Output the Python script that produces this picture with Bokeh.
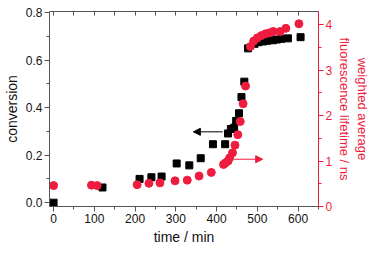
from bokeh.plotting import figure
from bokeh.models import (Range1d, LinearAxis, SingleIntervalTicker, Arrow, NormalHead,
                          NumeralTickFormatter, CustomLabelingPolicy)
from bokeh.embed import file_html
from bokeh.resources import INLINE

# conversion (black squares)
t_conv = [0, 120, 211, 240, 265, 302, 333, 361, 391, 421, 428, 435, 443, 448, 455, 461, 468,
          477, 493, 503, 514, 524, 538, 548, 559, 575, 606]
conv = [0.0, 0.064, 0.10, 0.107, 0.11, 0.165, 0.157, 0.187, 0.246, 0.246, 0.291, 0.31, 0.315,
        0.344, 0.376, 0.444, 0.509, 0.649, 0.668, 0.675, 0.678, 0.681, 0.683, 0.686, 0.689,
        0.691, 0.696]

# weighted average fluorescence lifetime (red circles)
t_life = [0, 93, 107, 205, 234, 261, 298, 328, 357, 387, 417, 422, 428, 432, 439, 445, 452,
          458, 465, 471, 483, 491, 500, 510, 520, 530, 539, 556, 570, 602]
life = [0.46, 0.47, 0.46, 0.48, 0.51, 0.52, 0.565, 0.58, 0.67, 0.75, 0.925, 0.96, 1.0, 1.07,
        1.18, 1.35, 1.58, 1.87, 2.26, 2.65, 3.52, 3.64, 3.71, 3.76, 3.80, 3.82, 3.85, 3.85,
        3.92, 4.02]

# arrows (data coordinates)
black_arrow = dict(x_start=415, x_end=343, y=0.298)
red_arrow = dict(x_start=443, x_end=513, y=1.04)

RED = "#ee1d3f"
GRAY = "#555555"
FONT = "Liberation Sans"

p = figure(width=373, height=247, output_backend="svg", toolbar_location=None,
           x_range=Range1d(-10, 650), y_range=Range1d(-0.016, 0.804),
           min_border_left=44, min_border_right=44, min_border_top=6, min_border_bottom=38)
p.extra_y_ranges = {"right": Range1d(0, 4.29)}
p.grid.visible = False
p.outline_line_color = None
p.background_fill_color = "white"

def style(ax, color=GRAY, label_color="#111111"):
    ax.axis_line_color = color
    ax.major_tick_line_color = color
    ax.minor_tick_line_color = color
    ax.major_tick_in = 0
    ax.major_tick_out = 5
    ax.minor_tick_in = 0
    ax.minor_tick_out = 3
    ax.major_label_text_font = FONT
    ax.major_label_text_font_size = "12px"
    ax.major_label_text_color = label_color
    ax.major_label_standoff = 2
    ax.axis_label_text_font = FONT
    ax.axis_label_text_font_size = "14px"
    ax.axis_label_text_font_style = "normal"
    ax.axis_label_text_color = label_color
    ax.axis_label_standoff = 3

xa = p.xaxis[0]
xa.ticker = SingleIntervalTicker(interval=100, num_minor_ticks=2)
xa.axis_label = "time / min"
style(xa)

ya = p.yaxis[0]
ya.ticker = SingleIntervalTicker(interval=0.2, num_minor_ticks=2)
ya.formatter = NumeralTickFormatter(format="0.0")
ya.axis_label = "conversion"
style(ya)

ra = LinearAxis(y_range_name="right",
                ticker=SingleIntervalTicker(interval=1, num_minor_ticks=2),
                formatter=NumeralTickFormatter(format="0"),
                axis_label="weighted average\nfluorescence lifetime / ns")
style(ra, color=RED, label_color=RED)
ra.axis_label_text_font_size = "13px"
ra.axis_label_standoff = 2
p.add_layout(ra, "right")

# top frame line with inward ticks, no labels
ta = LinearAxis(ticker=SingleIntervalTicker(interval=50, num_minor_ticks=0),
                major_label_policy=CustomLabelingPolicy(
                    code="for (const i of indices) { indices.unset(i) }\nreturn indices"))
ta.axis_line_color = GRAY
ta.major_tick_line_color = GRAY
ta.major_tick_in = 4
ta.major_tick_out = 0
ta.minor_tick_in = 0
ta.minor_tick_out = 0
ta.major_label_standoff = 0
p.add_layout(ta, "above")

p.scatter(t_conv, conv, marker="square", size=7, color="black")
p.scatter(t_life, life, marker="circle", size=8, color=RED, y_range_name="right")

p.add_layout(Arrow(end=NormalHead(size=7, fill_color="black", line_color="black"),
                   x_start=black_arrow["x_start"], y_start=black_arrow["y"],
                   x_end=black_arrow["x_end"], y_end=black_arrow["y"],
                   line_color="black", line_width=1))
p.add_layout(Arrow(end=NormalHead(size=7, fill_color=RED, line_color=RED),
                   x_start=red_arrow["x_start"], y_start=red_arrow["y"],
                   x_end=red_arrow["x_end"], y_end=red_arrow["y"],
                   line_color=RED, line_width=1, y_range_name="right"))

open("out.html", "w").write(file_html(p, INLINE))
